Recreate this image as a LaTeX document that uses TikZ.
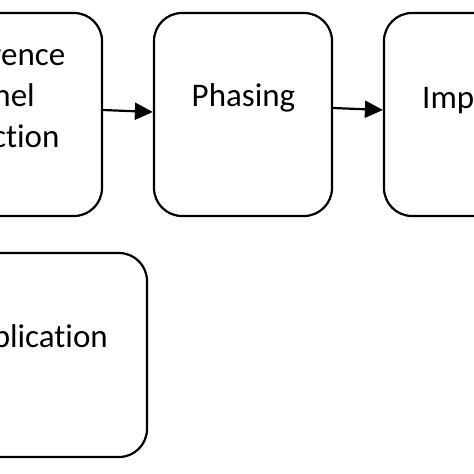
\documentclass[tikz,border=0pt]{standalone}
\usepackage{fontspec}
\setmainfont{Carlito}[Ligatures=NoCommon]
\usetikzlibrary{arrows.meta}
\tikzset{
  stagebox/.style={draw, line width=2.2pt, rounded corners=28pt, inner sep=0pt},
  stagetext/.style={font=\fontsize{33}{41}\selectfont, align=center, inner sep=0pt},
  flowarrow/.style={line width=2.2pt, -{Triangle[length=18pt,width=17pt]}}
}
\begin{document}
\begin{tikzpicture}[x=1pt,y=-1pt]
\useasboundingbox (0,0) rectangle (474,474);
\clip (0,0) rectangle (474,474);
\node [stagebox, minimum width=208pt, minimum height=203pt] (refpanel) at (-2,114.5) {};
\node [stagebox, minimum width=178pt, minimum height=203pt] (phasing) at (243,114.5) {};
\node [stagebox, minimum width=220pt, minimum height=203pt] (imputation) at (494,114.5) {};
\node [stagebox, minimum width=208pt, minimum height=204pt] (application) at (43,355) {};
\node [stagetext] (refpaneltext) at (-2,95) {Reference\\Panel\\Selection};
\node [stagetext, anchor=base] (phasingtext) at (243.5,106) {Phasing};
\node [stagetext, anchor=base west] (imputationtext) at (422,108) {Imputation};
\node [stagetext, anchor=base east] (applicationtext) at (108,347) {Application};
\draw [flowarrow] ([yshift=4.5pt]refpanel.east) -- ([yshift=2.5pt]phasing.west);
\draw [flowarrow] ([yshift=6.5pt]phasing.east) -- ([yshift=4.5pt]imputation.west);
\end{tikzpicture}
\end{document}
